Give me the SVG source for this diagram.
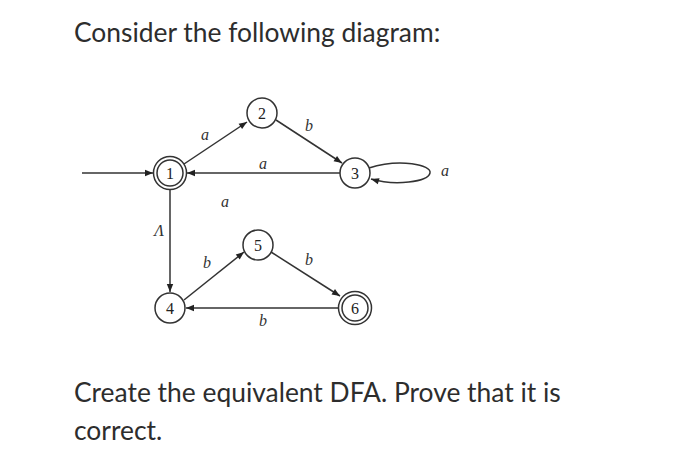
<svg xmlns="http://www.w3.org/2000/svg" width="700" height="452" viewBox="0 0 700 452">
<style>
.t{font-family:Lato,"Open Sans",sans-serif;font-size:26.4px;fill:#2d2d2d}
.n{fill:#fff;stroke:#333;stroke-width:1.5}
.nl{font-family:"Liberation Serif",serif;font-size:16px;fill:#222;text-anchor:middle}
.el{font-family:"Liberation Serif",serif;font-style:italic;font-size:16px;fill:#333;text-anchor:middle}
.e{stroke:#333;stroke-width:1.5;fill:none;marker-end:url(#ah)}
</style>
<defs><marker id="ah" viewBox="0 0 10 10" refX="10" refY="5" markerWidth="11" markerHeight="8" markerUnits="userSpaceOnUse" orient="auto"><path d="M0,1 L10,5 L0,9 Z" fill="#222"/></marker></defs>
<rect width="700" height="452" fill="#fff"/>
<text class="t" x="74" y="42">Consider the following diagram:</text>
<text class="t" x="74" y="402">Create the equivalent DFA. Prove that it is</text>
<text class="t" x="74" y="440">correct.</text>
<g id="connectors">
<path class="e" d="M82,173 H153"/>
<path class="e" d="M184,164 L247,122"/>
<path class="e" d="M276,120 L342,163"/>
<path class="e" d="M340,173 H187"/>
<path class="e" d="M369,168 C400,158 432,165 430,173 C428,182 395,186 371,179"/>
<path class="e" d="M170,190 V292"/>
<path class="e" d="M184,300 L244,252"/>
<path class="e" d="M271,252 L340,296"/>
<path class="e" d="M339,308 H186"/>
<text class="el" x="205" y="140">a</text>
<text class="el" x="309" y="131">b</text>
<text class="el" x="263" y="169">a</text>
<text class="el" x="445" y="176">a</text>
<text class="el" x="225" y="207">a</text>
<text class="el" x="159" y="236" font-style="normal">Λ</text>
<text class="el" x="207" y="268">b</text>
<text class="el" x="309" y="265">b</text>
<text class="el" x="263" y="326">b</text>
</g>
<g id="n1"><circle class="n" cx="170" cy="173" r="16.5"/><circle class="n" cx="170" cy="173" r="13"/><text class="nl" x="170" y="179">1</text></g>
<g id="n2"><circle class="n" cx="262" cy="113" r="15"/><text class="nl" x="262" y="119">2</text></g>
<g id="n3"><circle class="n" cx="355" cy="173" r="15"/><text class="nl" x="355" y="179">3</text></g>
<g id="n4"><circle class="n" cx="170" cy="308" r="15"/><text class="nl" x="170" y="314">4</text></g>
<g id="n5"><circle class="n" cx="258" cy="245" r="15"/><text class="nl" x="258" y="251">5</text></g>
<g id="n6"><circle class="n" cx="355" cy="308" r="16.5"/><circle class="n" cx="355" cy="308" r="13"/><text class="nl" x="355" y="314">6</text></g>
</svg>
